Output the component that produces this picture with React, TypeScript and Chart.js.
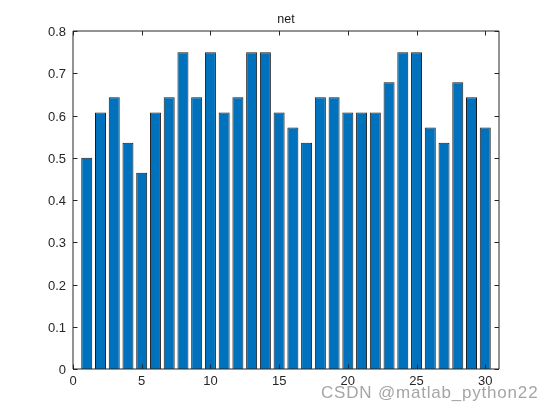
import React, { useEffect, useRef } from "react";
import { Chart, registerables } from "chart.js";

Chart.register(...registerables);

const categories = [1, 2, 3, 4, 5, 6, 7, 8, 9, 10, 11, 12, 13, 14, 15, 16, 17, 18, 19, 20, 21, 22, 23, 24, 25, 26, 27, 28, 29, 30];
const netValues = [
  0.5, 0.6071, 0.6429, 0.5357, 0.4643, 0.6071, 0.6429, 0.75, 0.6429, 0.75,
  0.6071, 0.6429, 0.75, 0.75, 0.6071, 0.5714, 0.5357, 0.6429, 0.6429, 0.6071,
  0.6071, 0.6071, 0.6786, 0.75, 0.75, 0.5714, 0.5357, 0.6786, 0.6429, 0.5714,
];
const xTicks = [0, 5, 10, 15, 20, 25, 30];
const xTickLabels = ["0", "5", "10", "15", "20", "25", "30"];
const yTicks = [0, 0.1, 0.2, 0.3, 0.4, 0.5, 0.6, 0.7, 0.8];
const yTickLabels = ["0", "0.1", "0.2", "0.3", "0.4", "0.5", "0.6", "0.7", "0.8"];
const titleText = "net";
const watermarkText = "CSDN @matlab_python22";

const FONT = "'Liberation Sans', Arial, Helvetica, sans-serif";

const boxPlugin = {
  id: "matlabBox",
  afterDatasetsDraw(chart: any) {
    const { ctx, chartArea } = chart;
    const { left, right, top, bottom } = chartArea;
    const xs = chart.scales.x;
    const ys = chart.scales.y;
    ctx.save();
    ctx.strokeStyle = "#262626";
    ctx.lineWidth = 1;
    ctx.beginPath();
    ctx.rect(left, top, right - left, bottom - top);
    ctx.stroke();
    const tl = 4.5;
    ctx.beginPath();
    xTicks.forEach((v) => {
      const px = Math.round(xs.getPixelForValue(v)) + 0.5;
      ctx.moveTo(px, bottom);
      ctx.lineTo(px, bottom - tl);
      ctx.moveTo(px, top);
      ctx.lineTo(px, top + tl);
    });
    yTicks.forEach((v) => {
      const py = Math.round(ys.getPixelForValue(v)) + 0.5;
      ctx.moveTo(left, py);
      ctx.lineTo(left + tl, py);
      ctx.moveTo(right, py);
      ctx.lineTo(right - tl, py);
    });
    ctx.stroke();
    ctx.restore();
  },
  afterDraw(chart: any) {
    const { ctx } = chart;
    ctx.save();
    ctx.font = `17px ${FONT}`;
    try {
      (ctx as any).letterSpacing = "0.8px";
    } catch (e) {}
    ctx.fillStyle = "rgba(160,160,160,0.95)";
    ctx.textAlign = "left";
    ctx.textBaseline = "alphabetic";
    ctx.fillText(watermarkText, 321, 398);
    ctx.restore();
  },
};

export default function App() {
  const ref = useRef<HTMLCanvasElement | null>(null);
  useEffect(() => {
    if (!ref.current) return;
    const chart = new Chart(ref.current, {
      type: "bar",
      data: {
        datasets: [
          {
            label: titleText,
            data: categories.map((c, i) => ({ x: c, y: netValues[i] })),
            backgroundColor: "#0072BD",
            borderColor: "#1a1a1a",
            borderWidth: 1,
            barPercentage: 1,
            categoryPercentage: 0.8,
          },
        ],
      },
      options: {
        responsive: false,
        animation: false,
        events: [],
        layout: { padding: { left: 0, right: 55, top: 0, bottom: 0 } },
        plugins: {
          legend: { display: false },
          tooltip: { enabled: false },
          title: {
            display: true,
            text: titleText,
            fullSize: false,
            color: "#1a1a1a",
            font: { family: FONT, size: 12.5, weight: "normal", lineHeight: 1.2 },
            padding: { top: 12.5, bottom: 3.5 },
          },
        },
        scales: {
          x: {
            type: "linear",
            min: 0,
            max: 31,
            bounds: "data",
            offset: false,
            grid: { display: false, drawTicks: false },
            border: { display: false },
            afterBuildTicks: (s: any) => {
              s.ticks = xTicks.map((v) => ({ value: v }));
            },
            afterFit: (s: any) => {
              s.height = 46;
            },
            ticks: {
              autoSkip: false,
              maxRotation: 0,
              padding: 5,
              color: "#262626",
              font: { family: FONT, size: 13 },
              callback: (_v: any, i: number) => xTickLabels[i],
            },
          },
          y: {
            type: "linear",
            min: 0,
            max: 0.8,
            bounds: "data",
            grid: { display: false, drawTicks: false },
            border: { display: false },
            afterBuildTicks: (s: any) => {
              s.ticks = yTicks.map((v) => ({ value: v }));
            },
            afterFit: (s: any) => {
              s.width = 73;
            },
            ticks: {
              autoSkip: false,
              padding: 7,
              labelOffset: 1.5,
              color: "#262626",
              font: { family: FONT, size: 13 },
              callback: (_v: any, i: number) => yTickLabels[i],
            },
          },
        },
      },
      plugins: [boxPlugin],
    } as any);
    return () => chart.destroy();
  }, []);
  return (
    <div style={{ position: "fixed", left: 0, top: 0, width: 554, height: 415, background: "#fff" }}>
      <canvas ref={ref} width={554} height={415} style={{ width: 554, height: 415 }} />
    </div>
  );
}
